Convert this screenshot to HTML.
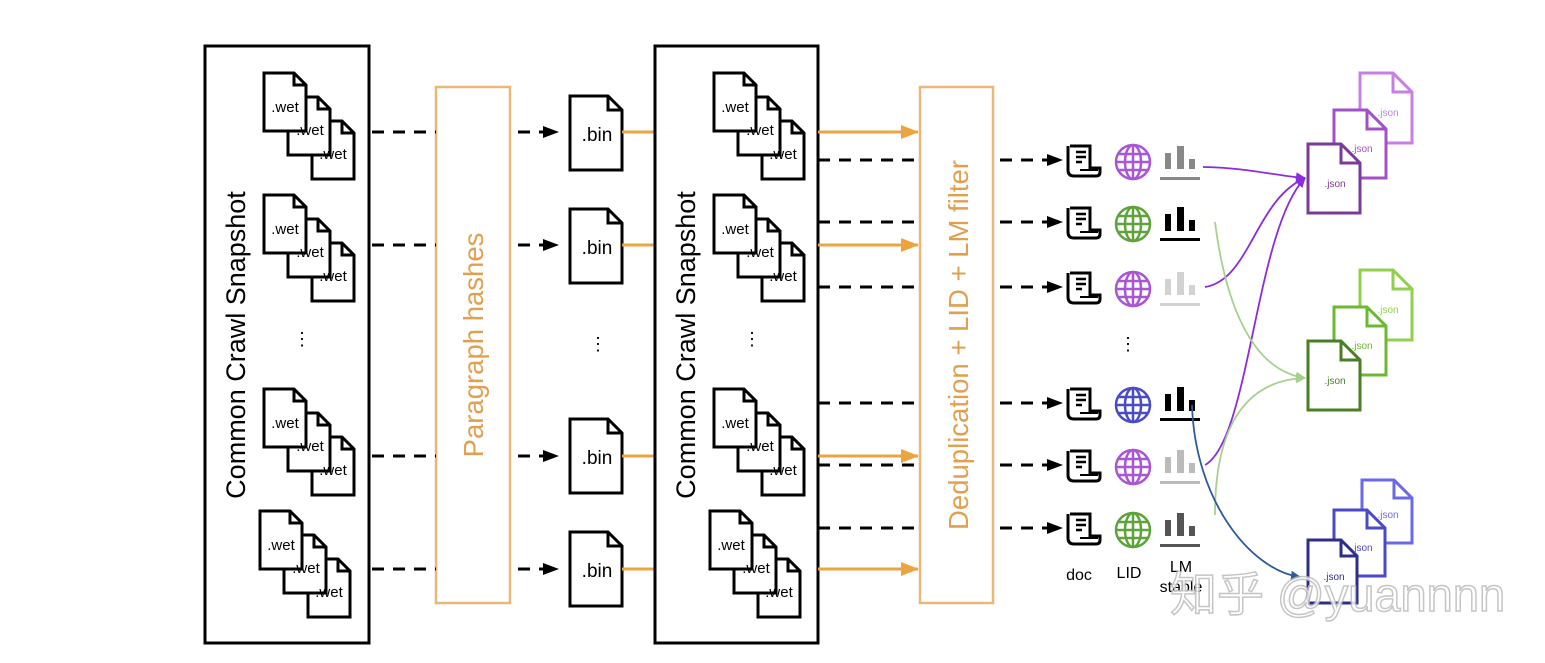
<!DOCTYPE html>
<html><head><meta charset="utf-8"><style>
html,body{margin:0;padding:0;background:#fff;}
svg{display:block;font-family:"Liberation Sans","Noto Sans CJK SC",sans-serif;}
</style></head><body>
<svg width="1545" height="663" viewBox="0 0 1545 663" xmlns="http://www.w3.org/2000/svg">
<defs>
<g id="wet"><path d="M0,0H30L42,12V58H0Z" fill="#fff" stroke="#000" stroke-width="3"/><path d="M30,0V12H42" fill="none" stroke="#000" stroke-width="3"/></g>
<g id="bin"><path d="M0,0H38L52,14V74H0Z" fill="#fff" stroke="#000" stroke-width="3"/><path d="M38,0V14H52" fill="none" stroke="#000" stroke-width="3"/></g>
<g id="docic"><path d="M4,2H24V24H34V28Q34,32 30,32H8Q2,32 2,26V2" fill="none" stroke="#000" stroke-width="3"/><path d="M10,8H20M10,13H20M10,18H16" stroke="#000" stroke-width="2.5"/><path d="M14,26H32" stroke="#000" stroke-width="2"/></g>
<g id="globe" fill="none" stroke-width="2.5"><circle cx="0" cy="0" r="17"/><ellipse cx="0" cy="0" rx="8" ry="17"/><path d="M-17,0H17M-15,-8H15M-15,8H15M0,-17V17"/></g>
<marker id="ab2" markerWidth="16" markerHeight="12" refX="15" refY="6" orient="auto" markerUnits="userSpaceOnUse"><path d="M0,0L16,6L0,12Z" fill="#000"/></marker>
<marker id="ao" markerWidth="18" markerHeight="14" refX="17" refY="7" orient="auto" markerUnits="userSpaceOnUse"><path d="M0,0L18,7L0,14Z" fill="#EBA43F"/></marker>
<marker id="ap" markerWidth="10" markerHeight="10" refX="9" refY="5" orient="auto" markerUnits="userSpaceOnUse"><path d="M0,0L10,5L0,10Z" fill="#8A2BE2"/></marker>
<marker id="ag" markerWidth="10" markerHeight="10" refX="9" refY="5" orient="auto" markerUnits="userSpaceOnUse"><path d="M0,0L10,5L0,10Z" fill="#A8D08D"/></marker>
<marker id="abl" markerWidth="10" markerHeight="10" refX="9" refY="5" orient="auto" markerUnits="userSpaceOnUse"><path d="M0,0L10,5L0,10Z" fill="#2E5A9A"/></marker>
</defs>

<rect x="205" y="46" width="164" height="597" fill="none" stroke="#000" stroke-width="3"/>
<text transform="translate(245,345) rotate(-90)" text-anchor="middle" font-size="27">Common Crawl Snapshot</text>
<g font-size="15" text-anchor="middle">
<use href="#wet" x="312" y="121"/><use href="#wet" x="288" y="97"/><use href="#wet" x="264" y="73"/>
<text x="285" y="112">.wet</text><text x="310" y="135">.wet</text><text x="333" y="159">.wet</text>
<use href="#wet" x="312" y="243"/><use href="#wet" x="288" y="219"/><use href="#wet" x="264" y="195"/>
<text x="285" y="234">.wet</text><text x="310" y="257">.wet</text><text x="333" y="281">.wet</text>
<use href="#wet" x="312" y="437"/><use href="#wet" x="288" y="413"/><use href="#wet" x="264" y="389"/>
<text x="285" y="428">.wet</text><text x="310" y="451">.wet</text><text x="333" y="475">.wet</text>
<use href="#wet" x="308" y="559"/><use href="#wet" x="284" y="535"/><use href="#wet" x="260" y="511"/>
<text x="281" y="550">.wet</text><text x="306" y="573">.wet</text><text x="329" y="597">.wet</text>
<text x="302" y="345" font-size="18">⋮</text>

<use href="#wet" x="762" y="121"/><use href="#wet" x="738" y="97"/><use href="#wet" x="714" y="73"/>
<text x="735" y="112">.wet</text><text x="760" y="135">.wet</text><text x="783" y="159">.wet</text>
<use href="#wet" x="762" y="243"/><use href="#wet" x="738" y="219"/><use href="#wet" x="714" y="195"/>
<text x="735" y="234">.wet</text><text x="760" y="257">.wet</text><text x="783" y="281">.wet</text>
<use href="#wet" x="762" y="437"/><use href="#wet" x="738" y="413"/><use href="#wet" x="714" y="389"/>
<text x="735" y="428">.wet</text><text x="760" y="451">.wet</text><text x="783" y="475">.wet</text>
<use href="#wet" x="758" y="559"/><use href="#wet" x="734" y="535"/><use href="#wet" x="710" y="511"/>
<text x="731" y="550">.wet</text><text x="756" y="573">.wet</text><text x="779" y="597">.wet</text>
<text x="752" y="345" font-size="18">⋮</text>
</g>

<rect x="436" y="87" width="74" height="516" fill="none" stroke="#E8B878" stroke-width="2.5"/>
<text transform="translate(483,345) rotate(-90)" text-anchor="middle" font-size="27.5" fill="#E0A050">Paragraph hashes</text>

<g stroke="#000" stroke-width="3" stroke-dasharray="12,9" fill="none">
<path d="M372,132H436M372,245H436M372,456H436M372,569H436"/>
<path d="M518,132H558" marker-end="url(#ab2)"/><path d="M518,245H558" marker-end="url(#ab2)"/>
<path d="M518,456H558" marker-end="url(#ab2)"/><path d="M518,569H558" marker-end="url(#ab2)"/>
</g>
<g font-size="19" text-anchor="middle">
<use href="#bin" x="570" y="96"/><text x="597" y="141">.bin</text>
<use href="#bin" x="570" y="209"/><text x="597" y="254">.bin</text>
<use href="#bin" x="570" y="419"/><text x="597" y="464">.bin</text>
<use href="#bin" x="570" y="532"/><text x="597" y="577">.bin</text>
<text x="598" y="350" font-size="18">⋮</text>
</g>
<path d="M622,132H655M622,245H655M622,456H655M622,569H655" stroke="#EBA43F" stroke-width="3"/>

<rect x="655" y="46" width="163" height="597" fill="none" stroke="#000" stroke-width="3"/>
<text transform="translate(695,345) rotate(-90)" text-anchor="middle" font-size="27">Common Crawl Snapshot</text>

<g stroke="#EBA43F" stroke-width="3" fill="none">
<path d="M818,132H918" marker-end="url(#ao)"/><path d="M818,245H918" marker-end="url(#ao)"/>
<path d="M818,456H918" marker-end="url(#ao)"/><path d="M818,569H918" marker-end="url(#ao)"/>
</g>
<g stroke="#000" stroke-width="3" stroke-dasharray="12,9" fill="none">
<path d="M818,160H918M818,222H918M818,287H918M818,403H918M818,465H918M818,528H918"/>
<path d="M1000,160H1062" marker-end="url(#ab2)"/><path d="M1000,222H1062" marker-end="url(#ab2)"/>
<path d="M1000,287H1062" marker-end="url(#ab2)"/><path d="M1000,403H1062" marker-end="url(#ab2)"/>
<path d="M1000,465H1062" marker-end="url(#ab2)"/><path d="M1000,528H1062" marker-end="url(#ab2)"/>
</g>

<rect x="920" y="87" width="73" height="516" fill="none" stroke="#E8B878" stroke-width="2.5"/>
<text transform="translate(968,345) rotate(-90)" text-anchor="middle" font-size="27.5" fill="#E0A050">Deduplication + LID + LM filter</text>

<use href="#docic" x="1066" y="144"/><use href="#globe" x="1133" y="162" stroke="#A855D6"/>
<use href="#docic" x="1066" y="206"/><use href="#globe" x="1133" y="224" stroke="#5EA33A"/>
<use href="#docic" x="1066" y="271"/><use href="#globe" x="1133" y="289" stroke="#A855D6"/>
<use href="#docic" x="1066" y="387"/><use href="#globe" x="1133" y="405" stroke="#4B4BC8"/>
<use href="#docic" x="1066" y="449"/><use href="#globe" x="1133" y="467" stroke="#A855D6"/>
<use href="#docic" x="1066" y="512"/><use href="#globe" x="1133" y="530" stroke="#5EA33A"/>
<g>
<g fill="#888"><rect x="1165" y="153" width="6" height="16"/><rect x="1177" y="146" width="7" height="23"/><rect x="1189" y="159" width="6" height="10"/><rect x="1160" y="177" width="40" height="3"/></g>
<g fill="#000"><rect x="1165" y="214" width="6" height="17"/><rect x="1177" y="207" width="7" height="24"/><rect x="1189" y="220" width="6" height="11"/><rect x="1160" y="238" width="40" height="3"/></g>
<g fill="#d2d2d2"><rect x="1165" y="279" width="6" height="16"/><rect x="1177" y="272" width="7" height="23"/><rect x="1189" y="285" width="6" height="10"/><rect x="1160" y="303" width="40" height="3"/></g>
<g fill="#000"><rect x="1165" y="394" width="6" height="17"/><rect x="1177" y="387" width="7" height="24"/><rect x="1189" y="400" width="6" height="11"/><rect x="1160" y="418" width="40" height="3"/></g>
<g fill="#bbb"><rect x="1165" y="457" width="6" height="16"/><rect x="1177" y="450" width="7" height="23"/><rect x="1189" y="463" width="6" height="10"/><rect x="1160" y="481" width="40" height="3"/></g>
<g fill="#555"><rect x="1165" y="520" width="6" height="16"/><rect x="1177" y="513" width="7" height="23"/><rect x="1189" y="526" width="6" height="10"/><rect x="1160" y="544" width="40" height="3"/></g>
</g>
<text x="1128" y="350" font-size="18" text-anchor="middle">⋮</text>
<g font-size="16" text-anchor="middle">
<text x="1079" y="580">doc</text><text x="1129" y="578">LID</text>
<text x="1181" y="572">LM</text><text x="1181" y="592">stable</text>
</g>

<g font-size="10" text-anchor="middle">
<g fill="#fff" stroke-width="3">
<path d="M1360,73H1393L1412,92V143H1360Z" stroke="#C77FE8"/><path d="M1393,73V92H1412" fill="none" stroke="#C77FE8"/>
<path d="M1334,110H1367L1386,129V178H1334Z" stroke="#A34FC9"/><path d="M1367,110V129H1386" fill="none" stroke="#A34FC9"/>
<path d="M1308,144H1341L1360,163V213H1308Z" stroke="#7A3A9A"/><path d="M1341,144V163H1360" fill="none" stroke="#7A3A9A"/>
</g>
<text x="1388" y="116" fill="#C77FE8">.json</text><text x="1362" y="152" fill="#A34FC9">.json</text><text x="1335" y="187" fill="#7A3A9A">.json</text>
<g fill="#fff" stroke-width="3">
<path d="M1360,270H1393L1412,289V340H1360Z" stroke="#8FD14F"/><path d="M1393,270V289H1412" fill="none" stroke="#8FD14F"/>
<path d="M1334,307H1367L1386,326V375H1334Z" stroke="#6BB832"/><path d="M1367,307V326H1386" fill="none" stroke="#6BB832"/>
<path d="M1308,341H1341L1360,360V410H1308Z" stroke="#4A7E25"/><path d="M1341,341V360H1360" fill="none" stroke="#4A7E25"/>
</g>
<text x="1388" y="313" fill="#8FD14F">.json</text><text x="1362" y="349" fill="#6BB832">.json</text><text x="1335" y="384" fill="#4A7E25">.json</text>
<g fill="#fff" stroke-width="3">
<path d="M1362,480H1394L1412,498V543H1362Z" stroke="#6A6AE8"/><path d="M1394,480V498H1412" fill="none" stroke="#6A6AE8"/>
<path d="M1334,510H1367L1385,528V576H1334Z" stroke="#4A4AC8"/><path d="M1367,510V528H1385" fill="none" stroke="#4A4AC8"/>
<path d="M1308,540H1341L1357,556V603H1308Z" stroke="#2E2E8A"/><path d="M1341,540V556H1357" fill="none" stroke="#2E2E8A"/>
</g>
<text x="1388" y="518" fill="#6A6AE8">.json</text><text x="1362" y="551" fill="#4A4AC8">.json</text><text x="1334" y="580" fill="#2E2E8A">.json</text>
</g>

<g fill="none" stroke-width="1.8">
<path d="M1203,167C1250,168 1270,175 1305,178" stroke="#8A2BE2" marker-end="url(#ap)"/>
<path d="M1205,287C1250,280 1255,200 1305,178" stroke="#8A2BE2" marker-end="url(#ap)"/>
<path d="M1205,465C1250,440 1255,230 1305,178" stroke="#8A2BE2" marker-end="url(#ap)"/>
<path d="M1215,222C1225,300 1250,370 1305,378" stroke="#A8D08D" marker-end="url(#ag)"/>
<path d="M1215,515C1215,420 1250,380 1305,378" stroke="#A8D08D" marker-end="url(#ag)"/>
<path d="M1192,405C1195,500 1250,570 1300,577" stroke="#2E5A9A" marker-end="url(#abl)"/>
</g>

<text x="1170" y="611" font-size="47" fill="#fff" stroke="#bbb" stroke-width="1.5" opacity="0.85">知乎 @yuannnn</text>
</svg>
</body></html>
